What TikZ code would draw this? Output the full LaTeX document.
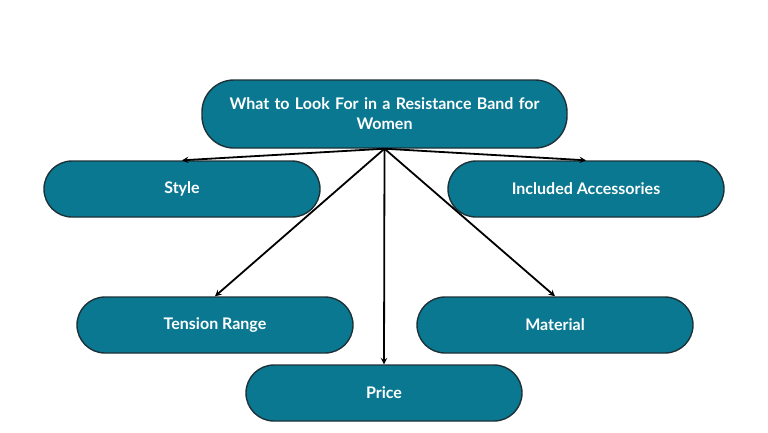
\documentclass[tikz,border=0pt]{standalone}
\usepackage{fontspec}
\setmainfont{Lato}[BoldFont={Lato Bold}]
\definecolor{bandteal}{HTML}{0B7891}
\definecolor{bandedge}{HTML}{1C3238}
\tikzset{
  pill/.style={draw=bandedge, line width=1.4pt, fill=bandteal, rounded corners=28pt,
    minimum width=276pt, minimum height=56pt, text=white,
    font=\fontsize{16}{20}\selectfont\bfseries},
  link/.style={->, line width=1.8pt, >=stealth}
}
\begin{document}
\begin{tikzpicture}[x=1pt, y=-1pt]
    % Lienzo
    \fill[white] (0,0) rectangle (768,432);
    \useasboundingbox (0,0) rectangle (768,432);

    % Nodo central
    \node[pill, minimum width=365pt, minimum height=68pt, rounded corners=32pt,
          text width=345pt, align=center] (root) at (384.5,114)
          {What to Look For in a Resistance Band for\\Women};

    % Criterios
    \node[pill] (style) at (182,189) {Style};
    \node[pill] (accessories) at (586,189) {Included Accessories};
    \node[pill] (tension) at (215,325) {Tension Range};
    \node[pill] (material) at (555,325) {Material};
    \node[pill] (price) at (384,393) {Price};

    % Flechas
    \draw[link] (root.south) -- (style.north);
    \draw[link] (root.south) -- (accessories.north);
    \draw[link] (root.south) -- (tension.north);
    \draw[link] (root.south) -- (material.north);
    \draw[link] (root.south) -- (price.north);
\end{tikzpicture}
\end{document}
